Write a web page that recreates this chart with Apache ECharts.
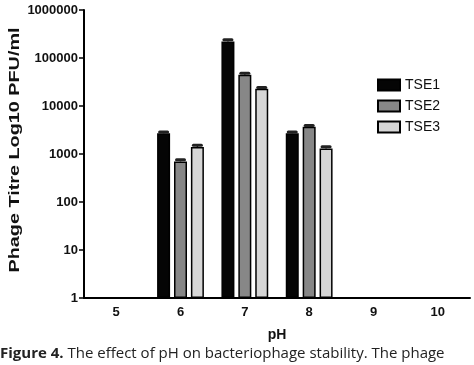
<!DOCTYPE html>
<html>
<head>
<meta charset="utf-8">
<script src="https://cdn.jsdelivr.net/npm/echarts@6/dist/echarts.min.js"></script>
<style>
  html, body { margin: 0; padding: 0; background: #fff; }
  #chart { width: 474px; height: 365px; }
</style>
</head>
<body>
<div id="chart"></div>
<script>
// pH categories
var phLabels = ['5', '6', '7', '8', '9', '10'];
// titres (PFU/ml), '-' where nothing was measured
var tse1 = ['-', 2700, 220000, 2700, '-', '-'];
var tse2 = ['-', 700, 45000, 3700, '-', '-'];
var tse3 = ['-', 1400, 23000, 1300, '-', '-'];
// error (upper) estimates
var err1 = [0, 250, 25000, 250, 0, 0];
var err2 = [0, 80, 4000, 300, 0, 0];
var err3 = [0, 150, 2000, 150, 0, 0];
var yTicks = [1, 10, 100, 1000, 10000, 100000, 1000000];

var chart = echarts.init(document.getElementById('chart'));

var FONT = 'Arial';
var barW = 13;
var gapPct = 30;

function errData(vals, errs) {
  var out = [];
  for (var i = 0; i < vals.length; i++) {
    if (vals[i] !== '-') out.push([i, vals[i], errs[i]]);
  }
  return out;
}

// error bar drawn on top of bar idx of each group
function errSeries(idx, vals, errs) {
  return {
    type: 'custom',
    z: 5,
    silent: true,
    data: errData(vals, errs),
    renderItem: function (params, api) {
      var step = barW * (1 + gapPct / 100);
      var off = (idx - 1) * step;
      var top = api.coord([api.value(0), api.value(1) + api.value(2)]);
      var base = api.coord([api.value(0), api.value(1)]);
      var x = top[0] + off;
      return {
        type: 'group',
        children: [
          { type: 'line', shape: { x1: x, y1: base[1], x2: x, y2: top[1] },
            style: { stroke: '#111', lineWidth: 1.5 } },
          { type: 'rect', shape: { x: x - barW / 2 + 1, y: top[1] - 1, width: barW - 2, height: 3, r: 1.5 },
            style: { fill: '#222' } }
        ]
      };
    }
  };
}

var barStyle = function (c) {
  return { color: c, borderColor: '#000', borderWidth: 1.5 };
};

var option = {
  animation: false,
  textStyle: { fontFamily: FONT },
  grid: { left: 84, right: 4, top: 10, bottom: 67, containLabel: false },
  legend: {
    orient: 'vertical',
    left: 372,
    top: 73,
    itemWidth: 22,
    itemHeight: 11,
    itemGap: 7,
    icon: 'rect',
    data: ['TSE1', 'TSE2', 'TSE3'],
    textStyle: { fontSize: 14, color: '#111', fontFamily: FONT }
  },
  xAxis: {
    type: 'category',
    data: phLabels,
    name: 'pH',
    nameLocation: 'middle',
    nameGap: 30,
    nameTextStyle: { fontSize: 14, fontWeight: 'bold', color: '#111', fontFamily: FONT },
    axisLine: { lineStyle: { color: '#000', width: 2 } },
    axisTick: { alignWithLabel: true, length: 4, lineStyle: { color: '#000', width: 1.5 } },
    axisLabel: { fontSize: 13, fontWeight: 'bold', color: '#111', margin: 8, fontFamily: FONT }
  },
  yAxis: {
    type: 'log',
    logBase: 10,
    min: yTicks[0],
    max: yTicks[yTicks.length - 1],
    axisLine: { show: true, lineStyle: { color: '#000', width: 2 } },
    axisTick: { show: true, length: 5, lineStyle: { color: '#000', width: 1.5 } },
    splitLine: { show: false },
    axisLabel: {
      fontSize: 13, fontWeight: 'bold', color: '#111', margin: 6, fontFamily: FONT,
      formatter: function (v) { return String(Math.round(v)); }
    }
  },
  series: [
    { name: 'TSE1', type: 'bar', data: tse1, barWidth: barW, barGap: gapPct + '%', itemStyle: barStyle('#050505') },
    { name: 'TSE2', type: 'bar', data: tse2, barWidth: barW, barGap: gapPct + '%', itemStyle: barStyle('#878787') },
    { name: 'TSE3', type: 'bar', data: tse3, barWidth: barW, barGap: gapPct + '%', itemStyle: barStyle('#d6d6d6') },
    errSeries(0, tse1, err1),
    errSeries(1, tse2, err2),
    errSeries(2, tse3, err3)
  ],
  graphic: [{
    // y axis title, stretched along its length like the original
    type: 'text',
    x: 15,
    y: 150,
    rotation: Math.PI / 2,
    scaleX: 1.32,
    style: {
      text: 'Phage Titre Log10 PFU/ml',
      font: 'bold 15px Arial',
      fill: '#111',
      align: 'center',
      verticalAlign: 'middle'
    }
  }, {
    type: 'text',
    left: 0,
    top: 346,
    style: {
      text: '{b|Figure 4.} The effect of pH on bacteriophage stability. The phage',
      fontSize: 15,
      fontFamily: '"Open Sans", "Noto Sans", sans-serif',
      fill: '#222',
      rich: { b: { fontWeight: 'bold', fontSize: 15, fontFamily: '"Open Sans", "Noto Sans", sans-serif', fill: '#222' } }
    }
  }]
};

chart.setOption(option);
</script>
</body>
</html>
